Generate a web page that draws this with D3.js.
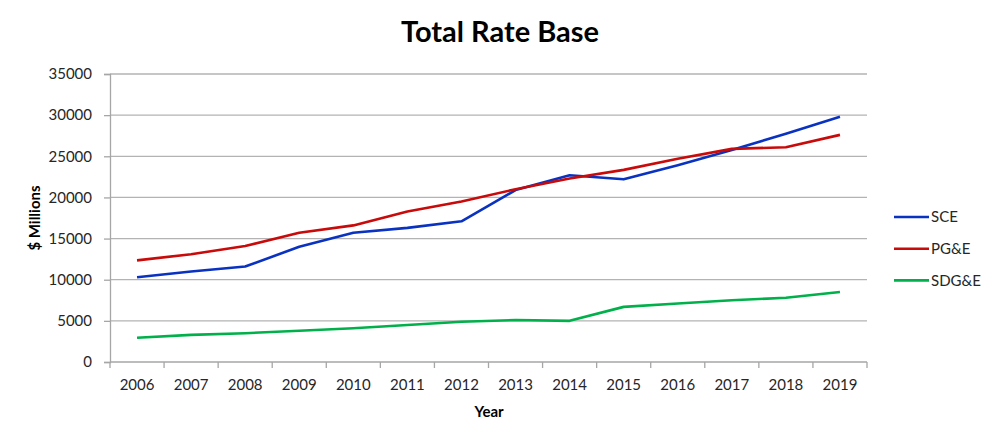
<!DOCTYPE html>
<html>
<head>
<meta charset="utf-8">
<script src="https://cdn.jsdelivr.net/npm/d3@7"></script>
<style>
  body { margin: 0; background: #fff; }
  text { font-family: Lato, "Open Sans", sans-serif; }
</style>
</head>
<body>
<div id="chart"></div>
<script>
// data ($ millions)
const years = ['2006', '2007', '2008', '2009', '2010', '2011', '2012', '2013', '2014', '2015', '2016', '2017', '2018', '2019'];
const sce = [10300, 11000, 11600, 14000, 15700, 16300, 17100, 20900, 22700, 22200, 23900, 25750, 27750, 29800];
const pge = [12350, 13100, 14100, 15700, 16600, 18300, 19500, 21000, 22300, 23350, 24700, 25900, 26100, 27600];
const sdge = [2950, 3300, 3500, 3800, 4100, 4500, 4900, 5100, 5000, 6700, 7100, 7500, 7800, 8500];
const yTicks = [0, 5000, 10000, 15000, 20000, 25000, 30000, 35000];

const series = [
  { name: 'SCE', values: sce, color: '#0A32C0' },
  { name: 'PG&E', values: pge, color: '#C80A0A' },
  { name: 'SDG&E', values: sdge, color: '#00B04A' }
];

const W = 1000, H = 444;
const margin = { top: 74, right: 133, bottom: 82, left: 110 };
const width = W - margin.left - margin.right;
const height = H - margin.top - margin.bottom;

const svg = d3.select('#chart').append('svg')
  .attr('width', W)
  .attr('height', H);

const g = svg.append('g')
  .attr('transform', `translate(${margin.left},${margin.top})`);

const x = d3.scaleBand().domain(years).range([0, width]);
const y = d3.scaleLinear().domain([0, 35000]).range([height, 0]);

// gridlines
g.append('g')
  .selectAll('line')
  .data(yTicks.filter(d => d > 0))
  .join('line')
  .attr('x1', 0)
  .attr('x2', width)
  .attr('y1', d => y(d))
  .attr('y2', d => y(d))
  .attr('stroke', '#b3b3b3')
  .attr('stroke-width', 1.3);

// y axis
const yAxis = g.append('g')
  .call(d3.axisLeft(y).tickValues(yTicks).tickSize(6).tickPadding(12).tickFormat(d3.format('d')));
yAxis.select('.domain').attr('stroke', '#a6a6a6').attr('stroke-width', 1.3);
yAxis.selectAll('.tick line').attr('stroke', '#a6a6a6').attr('stroke-width', 1.3);
yAxis.selectAll('text')
  .attr('fill', '#262626')
  .style('font-size', '15px')
  .style('font-family', 'Lato, sans-serif');

// x axis, ticks between categories
const xAxis = g.append('g')
  .attr('transform', `translate(0,${height})`);
xAxis.append('line')
  .attr('x1', 0).attr('x2', width)
  .attr('stroke', '#a6a6a6').attr('stroke-width', 1.3);
xAxis.selectAll('.sep')
  .data(years.concat(['end']))
  .join('line')
  .attr('class', 'sep')
  .attr('x1', (d, i) => i * x.step())
  .attr('x2', (d, i) => i * x.step())
  .attr('y1', 0).attr('y2', 6)
  .attr('stroke', '#a6a6a6').attr('stroke-width', 1.3);
xAxis.selectAll('.lbl')
  .data(years)
  .join('text')
  .attr('class', 'lbl')
  .attr('x', d => x(d) + x.bandwidth() / 2)
  .attr('y', 28)
  .attr('text-anchor', 'middle')
  .attr('fill', '#262626')
  .style('font-size', '15px')
  .text(d => d);

// lines
const line = d3.line()
  .x((d, i) => x(years[i]) + x.bandwidth() / 2)
  .y(d => y(d));

g.selectAll('.series')
  .data(series)
  .join('path')
  .attr('class', 'series')
  .attr('d', d => line(d.values))
  .attr('fill', 'none')
  .attr('stroke', d => d.color)
  .attr('stroke-width', 2.6)
  .attr('stroke-linejoin', 'round');

// title
svg.append('text')
  .attr('x', 500)
  .attr('y', 42)
  .attr('text-anchor', 'middle')
  .attr('font-weight', 'bold')
  .attr('fill', '#000')
  .style('font-size', '29px')
  .text('Total Rate Base');

// axis titles
svg.append('text')
  .attr('x', 489)
  .attr('y', 417)
  .attr('text-anchor', 'middle')
  .attr('font-weight', 'bold')
  .attr('fill', '#000')
  .style('font-size', '15px')
  .text('Year');

svg.append('text')
  .attr('transform', 'translate(40,218) rotate(-90)')
  .attr('text-anchor', 'middle')
  .attr('font-weight', 'bold')
  .attr('fill', '#000')
  .style('font-size', '15px')
  .text('$ Millions');

// legend
const legend = svg.append('g')
  .selectAll('.legend')
  .data(series)
  .join('g')
  .attr('class', 'legend')
  .attr('transform', (d, i) => `translate(894,${217 + i * 31.7})`);

legend.append('line')
  .attr('x1', 0).attr('x2', 35)
  .attr('stroke', d => d.color)
  .attr('stroke-width', 2.6);

legend.append('text')
  .attr('x', 37)
  .attr('dy', '0.35em')
  .attr('fill', '#262626')
  .style('font-size', '15px')
  .text(d => d.name);
</script>
</body>
</html>
